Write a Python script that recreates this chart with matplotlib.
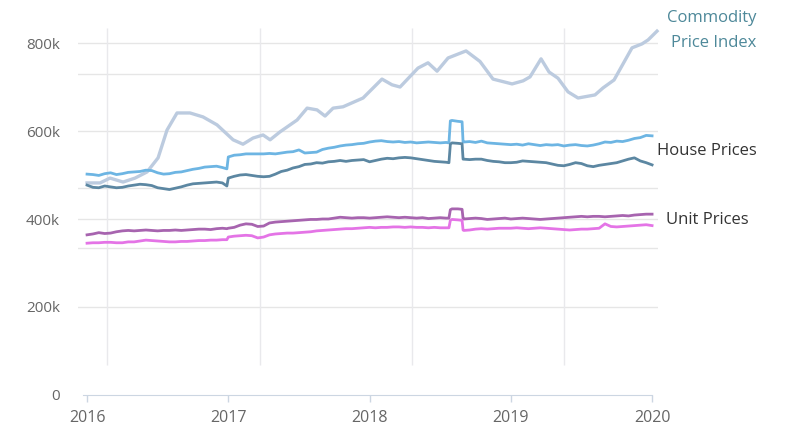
import matplotlib
matplotlib.use("Agg")
import matplotlib.pyplot as plt

plt.rcParams['font.family'] = ['Open Sans', 'DejaVu Sans']

# ---- time axis (decimal years): semi-monthly base + extra points at step changes
base_dates = [2016 + i / 24 for i in range(97)]
extra_dates = [2016.99, 2018.562, 2018.572, 2018.655, 2018.662]
dates = sorted(base_dates + extra_dates)

# ---- House prices (light blue series)
house_a = (
    [502, 501, 499, 503, 505, 501, 503, 506, 507, 508, 511, 510, 505, 502, 503, 506, 507, 510, 513, 515, 518, 519, 520, 517, 514]
    + [541, 545, 546, 548, 548, 548, 548, 549, 548, 550, 552, 553, 557, 550, 551, 552, 558, 561, 563, 566, 568, 569, 571, 572]
    + [575, 577, 578, 576, 575, 576, 574, 575, 573, 574, 575, 574, 573, 574, 573, 623, 624, 622, 621, 575, 575, 576, 574, 577, 573, 572, 571, 570]
    + [569, 570, 568, 571, 569, 567, 569, 568, 569, 566, 568, 569, 567, 566, 568, 571, 575, 574, 577, 576, 579, 583, 585, 590, 589]
)
# ---- House prices (dark blue-grey series)
house_b = (
    [477, 472, 471, 475, 473, 471, 472, 475, 477, 479, 478, 476, 471, 469, 467, 470, 473, 477, 480, 481, 482, 483, 484, 482, 475]
    + [493, 497, 500, 501, 499, 497, 496, 497, 502, 508, 511, 516, 519, 524, 525, 528, 527, 530, 531, 533, 531, 533, 534, 535]
    + [530, 533, 536, 538, 537, 539, 540, 539, 537, 535, 533, 531, 530, 529, 528, 570, 573, 572, 571, 536, 536, 535, 536, 536, 533, 531, 530, 528]
    + [528, 529, 532, 531, 530, 529, 528, 525, 522, 521, 524, 528, 526, 521, 519, 522, 524, 526, 528, 532, 536, 539, 532, 528, 523]
)
# ---- Unit prices (purple series)
unit_a = (
    [364, 366, 369, 367, 368, 371, 373, 374, 373, 374, 375, 374, 373, 374, 374, 375, 374, 375, 376, 377, 377, 376, 378, 379, 378]
    + [379, 381, 386, 389, 388, 383, 384, 391, 393, 394, 395, 396, 397, 398, 399, 399, 400, 400, 402, 404, 403, 402, 403, 403]
    + [402, 403, 404, 405, 404, 403, 404, 403, 402, 403, 401, 402, 403, 402, 402, 421, 423, 423, 422, 401, 400, 401, 402, 401, 399, 400, 401, 402]
    + [400, 401, 402, 401, 400, 399, 400, 401, 402, 403, 404, 405, 406, 405, 406, 406, 405, 406, 407, 408, 407, 409, 410, 411, 411]
)
# ---- Unit prices (magenta series)
unit_b = (
    [345, 346, 346, 347, 347, 346, 346, 348, 348, 350, 352, 351, 350, 349, 348, 348, 349, 349, 350, 351, 351, 352, 352, 353, 353]
    + [359, 361, 362, 363, 362, 357, 359, 364, 366, 367, 368, 368, 369, 370, 371, 373, 374, 375, 376, 377, 378, 378, 379, 380]
    + [381, 380, 381, 381, 382, 382, 381, 382, 381, 381, 380, 381, 380, 380, 380, 397, 399, 398, 397, 375, 374, 375, 377, 378, 377, 378, 379, 379]
    + [379, 380, 379, 378, 379, 380, 379, 378, 377, 376, 375, 376, 377, 377, 378, 379, 389, 383, 382, 383, 384, 385, 386, 387, 385]
)

# ---- Commodity price index
comm_dates = [2016.000, 2016.092, 2016.163, 2016.255, 2016.340, 2016.425, 2016.503, 2016.566,
              2016.637, 2016.729, 2016.821, 2016.920, 2017.034, 2017.104, 2017.175, 2017.246,
              2017.296, 2017.366, 2017.487, 2017.558, 2017.628, 2017.685, 2017.742, 2017.812,
              2017.954, 2018.088, 2018.159, 2018.216, 2018.343, 2018.414, 2018.478, 2018.556,
              2018.683, 2018.782, 2018.874, 2019.009, 2019.087, 2019.136, 2019.214, 2019.271,
              2019.334, 2019.405, 2019.476, 2019.596, 2019.653, 2019.731, 2019.858, 2019.929,
              2019.972, 2020.035]
comm_values = [482, 482, 493, 484, 493, 507, 539, 602,
               641, 641, 632, 614, 580, 570, 584, 591,
               580, 598, 625, 652, 648, 634, 652, 655,
               675, 718, 705, 700, 743, 755, 736, 766,
               782, 758, 718, 707, 714, 723, 764, 734,
               720, 689, 675, 682, 698, 716, 789, 798,
               807, 827]

y_ticks = [0, 200, 400, 600, 800]
y_ticklabels = ["0", "200k", "400k", "600k", "800k"]
x_ticks = [2016, 2017, 2018, 2019, 2020]
x_ticklabels = ["2016", "2017", "2018", "2019", "2020"]
extra_hgrid = [334, 470, 729]
vgrid = [2016.142, 2017.225, 2018.301, 2019.377]

assert len(dates) == len(house_a) == len(house_b) == len(unit_a) == len(unit_b)

fig = plt.figure(figsize=(8, 4.3), dpi=100)
ax = fig.add_axes([0.0975, 0.0814, 0.725, 0.8544])
ax.set_xlim(2015.936, 2020.042)
ax.set_ylim(0, 835)

# grid
for v in y_ticks[1:] + extra_hgrid:
    ax.axhline(v, color="#e6e6e6", lw=1, zorder=0)
ax.vlines(vgrid, 68, 835, color="#e9e9ec", lw=1, zorder=0)

# series
ax.plot(comm_dates, comm_values, color="#bccbdf", lw=2.4, zorder=2, clip_on=False, solid_joinstyle="round")
ax.plot(dates, house_a, color="#6db5e3", lw=2.0, zorder=3)
ax.plot(dates, house_b, color="#5c87a2", lw=2.0, zorder=3)
ax.plot(dates, unit_a, color="#a764af", lw=2.0, zorder=3)
ax.plot(dates, unit_b, color="#e474e6", lw=2.0, zorder=3)

# axes styling
for s in ["top", "right", "left"]:
    ax.spines[s].set_visible(False)
ax.spines["bottom"].set_color("#ccd6e2")
ax.spines["bottom"].set_bounds(2015.972, 2020.0)
ax.set_yticks(y_ticks)
ax.set_yticklabels(y_ticklabels)
ax.set_xticks(x_ticks)
ax.set_xticklabels(x_ticklabels)
ax.tick_params(axis="y", length=0, pad=13, labelsize=11, labelcolor="#666666")
ax.tick_params(axis="x", length=5, width=1, color="#ccd6e2", pad=6, labelsize=11.5, labelcolor="#666666")

# right-hand labels
fig.text(0.89, 1 - 18 / 430, "Commodity", ha="center", va="center", fontsize=12, color="#4d8899")
fig.text(0.892, 1 - 43 / 430, "Price Index", ha="center", va="center", fontsize=12, color="#4d8899")
fig.text(0.883, 1 - 151 / 430, "House Prices", ha="center", va="center", fontsize=12, color="#333333")
fig.text(0.884, 1 - 220 / 430, "Unit Prices", ha="center", va="center", fontsize=12, color="#333333")

fig.savefig("out.png", dpi=100)
